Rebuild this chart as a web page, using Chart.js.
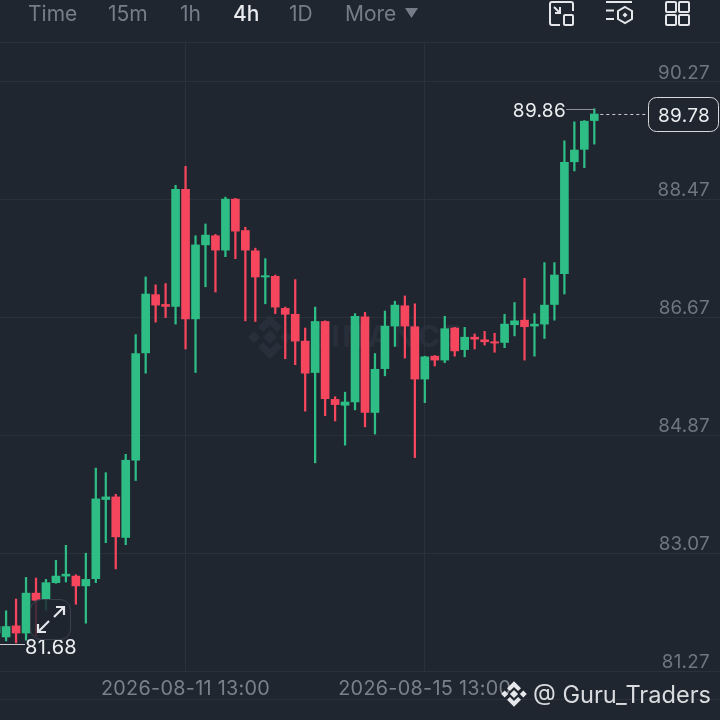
<!DOCTYPE html>
<html>
<head>
<meta charset="utf-8">
<script src="https://cdn.jsdelivr.net/npm/chart.js@4"></script>
<style>
  html, body { margin: 0; padding: 0; background: #1f2630; }
  #wrap { position: relative; width: 720px; height: 720px; overflow: hidden; background: #1f2630; font-family: Inter, sans-serif; }
  canvas { position: absolute; left: 0; top: 0; }
  .tab { position: absolute; top: 1px; font-size: 21px; line-height: 26px; color: #767d88; }
  .tab.on { color: #e8eaed; font-weight: 500; }
  .rule { position: absolute; left: 0; width: 720px; height: 1px; background: #2a313b; }
  .icon { position: absolute; top: 0; }
  #markText { position: absolute; left: 309px; top: 318px; font-size: 30px; line-height: 36px; font-weight: 700; letter-spacing: 2.5px; color: #282f3a; }
  #markLogo { position: absolute; left: 246px; top: 313px; }
  #expand { position: absolute; left: 30px; top: 599px; width: 41px; height: 41px; box-sizing: border-box; border: 1.5px solid #3a414c; border-radius: 11px; background: rgba(31,38,48,.82); }
  #guru { position: absolute; left: 533px; top: 680px; font-size: 23.6px; line-height: 30px; color: #d9dbde; white-space: nowrap; }
  #guruLogo { position: absolute; left: 500px; top: 680px; }
</style>
</head>
<body>
<div id="wrap">
  <svg id="markLogo" width="48" height="48" viewBox="0 0 48 48" fill="#282f3a">
    <path d="M24 2 L36 14 L31 19 L24 12 L17 19 L12 14Z M24 46 L12 34 L17 29 L24 36 L31 29 L36 34Z M2 24 L8 18 L14 24 L8 30Z M34 24 L40 18 L46 24 L40 30Z M24 17 L31 24 L24 31 L17 24Z"/>
  </svg>
  <div id="markText">BINANCE</div>
  <div class="rule" style="top:42px"></div>
  <div class="rule" style="top:699px"></div>
  <canvas id="grafico" width="720" height="720"></canvas>

  <div class="tab" style="left:28px">Time</div>
  <div class="tab" style="left:108px">15m</div>
  <div class="tab" style="left:180px">1h</div>
  <div class="tab on" style="left:233px">4h</div>
  <div class="tab" style="left:289px">1D</div>
  <div class="tab" style="left:345px">More</div>
  <svg class="icon" style="left:404px;top:7px" width="15" height="12"><path d="M1 1 H14 L7.5 11Z" fill="#767d88"/></svg>

  <svg class="icon" style="left:548px" width="28" height="28" fill="none" stroke="#e4e6ea" stroke-width="2">
    <path d="M25 11 V4 Q25 2 23 2 H4 Q2 2 2 4 V23 Q2 25 4 25 H12"/>
    <rect x="16" y="15" width="9" height="10" rx="1"/>
    <path d="M6 7 L12 13 M12 7 V13 H7"/>
  </svg>
  <svg class="icon" style="left:605px" width="30" height="28" fill="none" stroke="#e4e6ea" stroke-width="2">
    <path d="M1 2 H27 M1 10.5 H9 M1 19 H9"/>
    <path d="M20 7 L27 11 V19 L20 23 L13 19 V11Z"/>
    <path d="M20 12.5 L22.5 15 L20 17.5 L17.5 15Z" fill="#e4e6ea" stroke="none"/>
  </svg>
  <svg class="icon" style="left:664px" width="28" height="28" fill="none" stroke="#e4e6ea" stroke-width="2">
    <rect x="2" y="2" width="10" height="10" rx="1"/><rect x="15" y="2" width="10" height="10" rx="1"/>
    <rect x="2" y="15" width="10" height="10" rx="1"/><rect x="15" y="15" width="10" height="10" rx="1"/>
  </svg>

  <div id="expand"></div>
  <svg class="icon" style="left:30px;top:599px" width="42" height="42" fill="none" stroke="#e4e6ea" stroke-width="2.2">
    <path d="M8 33 L19 22 M8 25 V33 H16"/>
    <path d="M24 18 L34 8 M26 8 H34 V16"/>
  </svg>

  <svg id="guruLogo" width="28" height="28" viewBox="0 0 48 48" fill="#e6e7ea">
    <path d="M24 2 L36 14 L31 19 L24 12 L17 19 L12 14Z M24 46 L12 34 L17 29 L24 36 L31 29 L36 34Z M2 24 L8 18 L14 24 L8 30Z M34 24 L40 18 L46 24 L40 30Z M24 17 L31 24 L24 31 L17 24Z"/>
  </svg>
  <div id="guru">@ Guru_Traders</div>
</div>

<script>
// one entry per 4h candle (the first one sits off the left edge)
const horas = [
  '2026-08-08 09:00',
  '2026-08-08 13:00','2026-08-08 17:00','2026-08-08 21:00','2026-08-09 01:00','2026-08-09 05:00','2026-08-09 09:00',
  '2026-08-09 13:00','2026-08-09 17:00','2026-08-09 21:00','2026-08-10 01:00','2026-08-10 05:00','2026-08-10 09:00',
  '2026-08-10 13:00','2026-08-10 17:00','2026-08-10 21:00','2026-08-11 01:00','2026-08-11 05:00','2026-08-11 09:00',
  '2026-08-11 13:00','2026-08-11 17:00','2026-08-11 21:00','2026-08-12 01:00','2026-08-12 05:00','2026-08-12 09:00',
  '2026-08-12 13:00','2026-08-12 17:00','2026-08-12 21:00','2026-08-13 01:00','2026-08-13 05:00','2026-08-13 09:00',
  '2026-08-13 13:00','2026-08-13 17:00','2026-08-13 21:00','2026-08-14 01:00','2026-08-14 05:00','2026-08-14 09:00',
  '2026-08-14 13:00','2026-08-14 17:00','2026-08-14 21:00','2026-08-15 01:00','2026-08-15 05:00','2026-08-15 09:00',
  '2026-08-15 13:00','2026-08-15 17:00','2026-08-15 21:00','2026-08-16 01:00','2026-08-16 05:00','2026-08-16 09:00',
  '2026-08-16 13:00','2026-08-16 17:00','2026-08-16 21:00','2026-08-17 01:00','2026-08-17 05:00','2026-08-17 09:00',
  '2026-08-17 13:00','2026-08-17 17:00','2026-08-17 21:00','2026-08-18 01:00','2026-08-18 05:00','2026-08-18 09:00'
];
const abre = [81.85,
  81.79,81.96,81.85,82.46,82.37,82.62,82.72,82.72,82.57,82.68,83.89,83.93,83.31,84.49,86.13,87.02,86.87,86.84,
  88.63,86.65,87.78,87.92,87.70,88.48,88.00,87.69,87.29,87.30,86.81,86.72,86.31,85.83,86.61,85.42,85.33,85.38,
  86.68,85.22,85.89,86.54,86.85,86.53,85.73,86.08,86.02,86.51,86.18,86.37,86.33,86.30,86.29,86.56,86.63,86.54,
  86.57,86.87,87.34,89.05,89.24,89.68];
const maximo = [82.10,
  82.19,82.37,82.70,82.69,82.67,82.96,83.19,82.74,83.07,84.37,84.30,83.97,84.58,86.41,87.29,87.17,87.19,88.69,
  88.98,87.92,88.10,87.94,88.51,88.49,88.05,87.73,87.57,87.32,86.83,87.25,86.51,86.83,86.62,85.46,85.53,86.73,
  86.75,86.12,86.77,86.92,87.00,86.88,86.08,86.09,86.69,86.52,86.52,86.42,86.46,86.43,86.72,86.90,87.27,86.73,
  87.51,87.51,89.37,89.66,89.68,89.86];
const minimo = [81.68,
  81.73,81.70,81.74,81.80,82.20,82.61,82.63,82.29,82.00,82.62,83.23,82.83,83.20,84.18,85.82,86.60,86.67,86.57,
  86.19,85.83,87.14,87.06,87.60,87.57,86.62,86.61,86.88,86.73,86.04,85.95,85.24,84.45,85.17,85.09,84.72,85.26,
  85.00,84.89,85.78,86.23,86.05,84.53,85.37,85.93,85.98,86.08,86.07,86.19,86.25,86.14,86.21,86.39,86.02,86.08,
  86.35,86.63,87.03,88.91,88.96,89.32];
const fecha = [81.95,
  81.95,81.85,82.46,82.35,82.62,82.72,82.75,82.57,82.67,83.90,83.93,83.32,84.49,86.12,87.03,86.86,86.84,88.63,
  86.65,87.78,87.93,87.70,88.48,87.99,87.70,87.29,87.31,86.83,86.72,86.31,85.82,86.61,85.43,85.34,85.38,86.69,
  85.22,85.88,86.54,86.86,86.54,85.73,86.07,86.02,86.50,86.16,86.37,86.34,86.30,86.28,86.57,86.62,86.53,86.57,
  86.86,87.32,89.04,89.23,89.67,89.78];

const ticksPreco = [81.27, 83.07, 84.87, 86.67, 88.47, 90.27];
const ticksHora = ['2026-08-11 13:00', '2026-08-15 13:00'];
const precoAtual = 89.78;
const precoMaximo = 89.86;
const precoMinimo = 81.68;

const VERDE = '#2ebd85';
const VERMELHO = '#f6465d';
const cores = fecha.map((c, i) => c >= abre[i] ? VERDE : VERMELHO);
const fonte = 'Inter, sans-serif';

// price tag, high and low labels on top of the candles
const marcas = {
  id: 'marcas',
  beforeDraw(chart) {
    chart.ctx.letterSpacing = '0.3px';
  },
  afterDatasetsDraw(chart) {
    const { ctx, scales: { x, y } } = chart;
    const ultimo = horas.length - 1;
    const xUlt = x.getPixelForValue(ultimo);
    ctx.save();
    ctx.font = '19px ' + fonte;
    ctx.textBaseline = 'middle';

    // dashed line to the tag
    const yAtual = y.getPixelForValue(precoAtual);
    ctx.strokeStyle = '#c9ccd1';
    ctx.lineWidth = 1;
    ctx.setLineDash([3, 3]);
    ctx.beginPath();
    ctx.moveTo(xUlt + 6, yAtual + 0.5);
    ctx.lineTo(648, yAtual + 0.5);
    ctx.stroke();
    ctx.setLineDash([]);

    ctx.beginPath();
    ctx.roundRect(648.5, 97.5, 70, 34, 8);
    ctx.fillStyle = '#1f2630';
    ctx.fill();
    ctx.strokeStyle = '#d5d8dc';
    ctx.stroke();
    ctx.fillStyle = '#eceef0';
    ctx.textAlign = 'center';
    ctx.fillText(precoAtual.toFixed(2), 684, yAtual + 2);

    // high
    const yMax = Math.round(y.getPixelForValue(precoMaximo)) + 0.5;
    ctx.strokeStyle = '#8b9097';
    ctx.beginPath();
    ctx.moveTo(566, yMax);
    ctx.lineTo(xUlt, yMax);
    ctx.stroke();
    ctx.textAlign = 'right';
    ctx.fillText(precoMaximo.toFixed(2), 566, yMax + 2);

    // low
    const yMin = Math.round(y.getPixelForValue(precoMinimo)) + 0.5;
    ctx.strokeStyle = '#c9ccd1';
    ctx.beginPath();
    ctx.moveTo(x.getPixelForValue(0), yMin);
    ctx.lineTo(25, yMin);
    ctx.stroke();
    ctx.textAlign = 'left';
    ctx.font = '20px ' + fonte;
    ctx.fillText(precoMinimo.toFixed(2), 25, yMin + 3);
    ctx.restore();
  }
};

const grafico = new Chart(document.getElementById('grafico').getContext('2d'), {
  type: 'bar',
  data: {
    datasets: [
      {
        label: 'Pavio',
        data: horas.map((h, i) => ({ x: i, y: [minimo[i], maximo[i]] })),
        backgroundColor: cores,
        barThickness: 1.6,
        grouped: false,
        order: 2
      },
      {
        label: 'Corpo',
        data: horas.map((h, i) => ({ x: i, y: [abre[i], fecha[i]] })),
        backgroundColor: cores,
        barThickness: 8,
        grouped: false,
        order: 1
      }
    ]
  },
  options: {
    responsive: false,
    animation: false,
    layout: { padding: { top: 42, left: 0, right: 0, bottom: 0 } },
    plugins: { legend: { display: false }, tooltip: { enabled: false } },
    scales: {
      x: {
        type: 'linear',
        offset: false,
        min: 0.39,
        max: 72.607,
        afterFit: s => { s.height = 49; },
        afterBuildTicks: s => { s.ticks = ticksHora.map(t => ({ value: horas.indexOf(t) })); },
        grid: { color: '#2a313b', drawTicks: false, offset: false },
        border: { display: false },
        ticks: {
          autoSkip: false,
          maxRotation: 0,
          padding: 6,
          color: '#7a818b',
          font: { family: fonte, size: 19.8 },
          callback: v => horas[v]
        }
      },
      y: {
        position: 'right',
        min: 81.27,
        max: 90.88,
        afterFit: s => { s.width = 0; },
        afterBuildTicks: s => { s.ticks = ticksPreco.map(v => ({ value: v })); },
        grid: { color: '#2a313b', drawTicks: false },
        border: { display: false },
        ticks: {
          mirror: true,
          padding: -10,
          labelOffset: -9,
          color: '#6f7680',
          font: { family: fonte, size: 18.8 },
          callback: v => v.toFixed(2)
        }
      }
    }
  },
  plugins: [marcas]
});
</script>
</body>
</html>
